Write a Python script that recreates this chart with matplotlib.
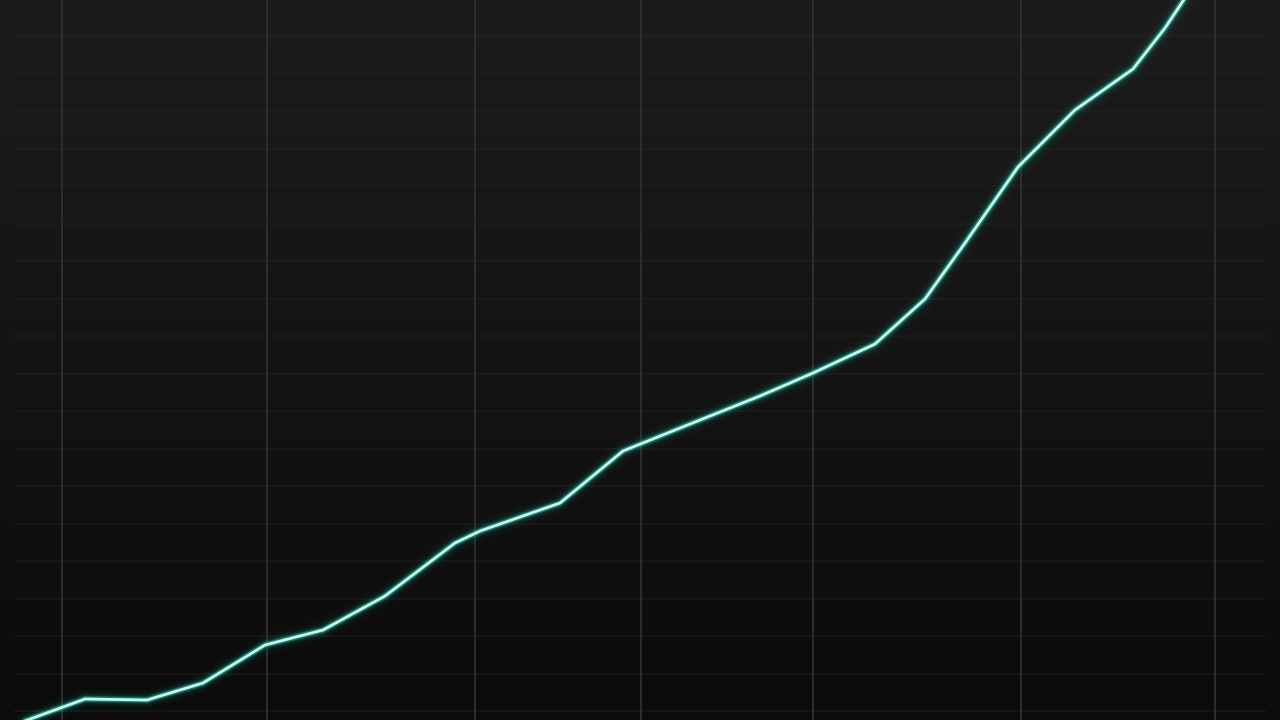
import numpy as np
import matplotlib
matplotlib.use("Agg")
import matplotlib.pyplot as plt
from matplotlib.colors import LinearSegmentedColormap

# Series values
x_vals = [2.2, 8.5, 14.7, 20.3, 26.5, 32.3, 38.5, 45.5, 48.0, 56.0, 62.3,
          70.0, 76.0, 81.3, 87.5, 92.5, 96.5, 101.8, 107.5, 113.3, 116.5, 118.5]
y_vals = [-0.2, 2.1, 2.0, 3.7, 7.5, 9.0, 12.4, 17.7, 18.9, 21.7, 26.9,
          30.0, 32.4, 34.7, 37.6, 42.1, 47.7, 55.3, 61.0, 65.1, 69.2, 72.2]

# Vertical grid positions (irregular)
x_grid = [6.2, 26.7, 47.5, 64.1, 81.3, 102.1, 121.5]
# Horizontal faint grid positions
y_grid = [0.9 + 3.75 * k for k in range(20)]

fig = plt.figure(figsize=(12.8, 7.2), dpi=100)
ax = fig.add_axes([0, 0, 1, 1])
ax.set_xlim(0, 128)
ax.set_ylim(0, 72)
ax.axis("off")

# background gradient
cmap = LinearSegmentedColormap.from_list("bg", ["#0b0b0b", "#141414", "#1c1c1c"])
grad = np.linspace(0, 1, 256).reshape(-1, 1)
ax.imshow(grad, aspect="auto", cmap=cmap, extent=[0, 128, 0, 72],
          origin="lower", zorder=0)

for yy in y_grid:
    ax.axhline(yy, xmin=0.012, xmax=0.988, color="#262626", lw=1.2,
               alpha=0.45, zorder=1)
for xx in x_grid:
    ax.axvline(xx, color="#303030", lw=1.3, zorder=2)

# glow
for lw, a in [(14, 0.03), (10, 0.05), (7, 0.10), (5, 0.22), (3.8, 0.45)]:
    ax.plot(x_vals, y_vals, color="#1fb9a0", lw=lw, alpha=a,
            solid_joinstyle="round", solid_capstyle="round", zorder=3)
ax.plot(x_vals, y_vals, color="#c6faee", lw=2.0,
        solid_joinstyle="round", solid_capstyle="round", zorder=4)

fig.savefig("out.png", dpi=100, facecolor="#151515")
